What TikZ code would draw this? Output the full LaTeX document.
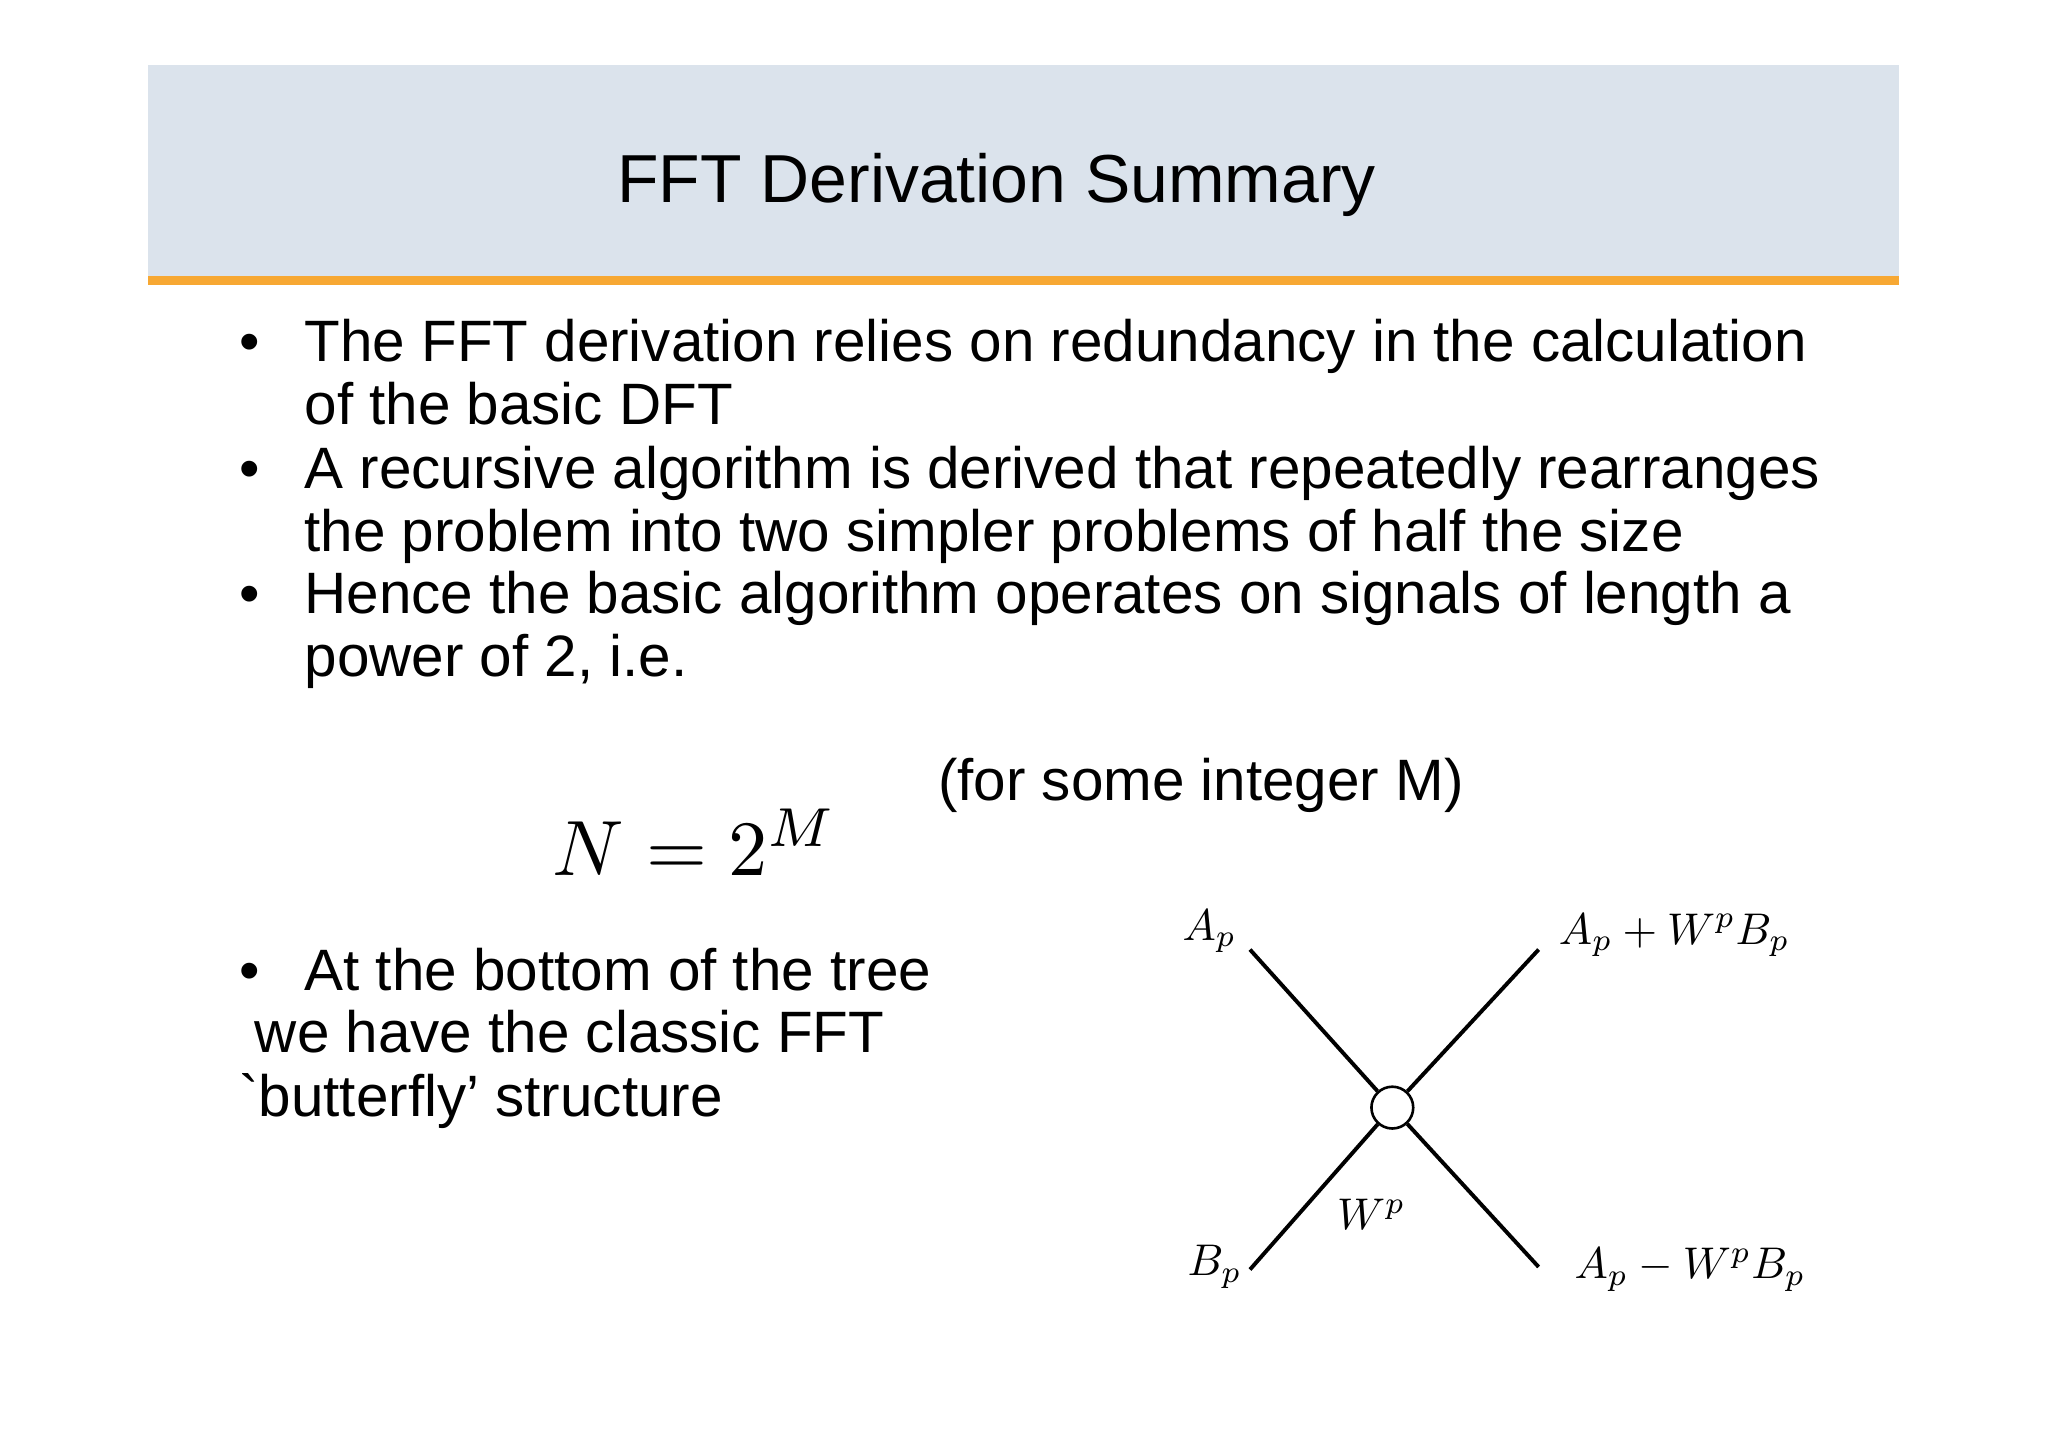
\documentclass[tikz,border=0pt]{standalone}
\usepackage{graphicx}
\usepackage{fontspec}
\setmainfont{Liberation Sans}
\definecolor{hdr}{RGB}{219,227,236}
\definecolor{org}{RGB}{247,168,51}
\begin{document}
\begin{tikzpicture}[x=1pt,y=-1pt,
  body/.style={anchor=base west,inner sep=0pt,font=\fontsize{44.7}{48}\selectfont},
  lbl/.style={inner sep=0pt},
  wire/.style={line width=3pt}]
\useasboundingbox (0,0) rectangle (1568,1108);
\fill[hdr] (113,50) rectangle (1454,212);
\fill[org] (113,211) rectangle (1454,218);
\node[anchor=base,inner sep=0pt,font=\fontsize{52}{56}\selectfont] (title) at (763,155) {FFT Derivation Summary};
\node[body] (b1) at (183,277) {\textbullet};
\node[body] (t1) at (233,277) {The FFT derivation relies on redundancy in the calculation};
\node[body] (t1b) at (233,325) {of the basic DFT};
\node[body] (b2) at (183,374) {\textbullet};
\node[body] (t2) at (233,374) {A recursive algorithm is derived that repeatedly rearranges};
\node[body] (t2b) at (233,422) {the problem into two simpler problems of half the size};
\node[body] (b3) at (183,470) {\textbullet};
\node[body] (t3) at (233,470) {Hence the basic algorithm operates on signals of length a};
\node[body] (t3b) at (233,518) {power of 2, i.e.};
\node[body] (fs) at (718,613) {(for some integer M)};
\node[anchor=base west,inner sep=0pt] (eq) at (423,670) {\scalebox{6}{$N=2^M$}};
\node[body] (b4) at (183,758) {\textbullet};
\node[body] (t4) at (233,758) {At the bottom of the tree};
\node[body] (t4b) at (195,806) {we have the classic FFT};
\node[body] (t4c) at (183,855) {\textasciigrave butterfly’ structure};
% butterfly
\node[draw,circle,line width=2pt,minimum size=32pt,inner sep=0pt] (c) at (1066,848) {};
\coordinate (ap) at (957,727);
\coordinate (bp) at (957,972);
\coordinate (o1) at (1178,727);
\coordinate (o2) at (1178,970);
\draw[wire] (ap) -- (c);
\draw[wire] (bp) -- (c);
\draw[wire] (c) -- (o1);
\draw[wire] (c) -- (o2);
\node[lbl] (lA) at (926,713) {\scalebox{3.4}{$A_p$}};
\node[lbl] (lB) at (930,970) {\scalebox{3.4}{$B_p$}};
\node[lbl] (lO1) at (1282,716) {\scalebox{3.4}{$A_p+W^pB_p$}};
\node[lbl] (lO2) at (1294,972) {\scalebox{3.4}{$A_p-W^pB_p$}};
\node[lbl] (lW) at (1050,930) {\scalebox{3.4}{$W^p$}};
\end{tikzpicture}
\end{document}
